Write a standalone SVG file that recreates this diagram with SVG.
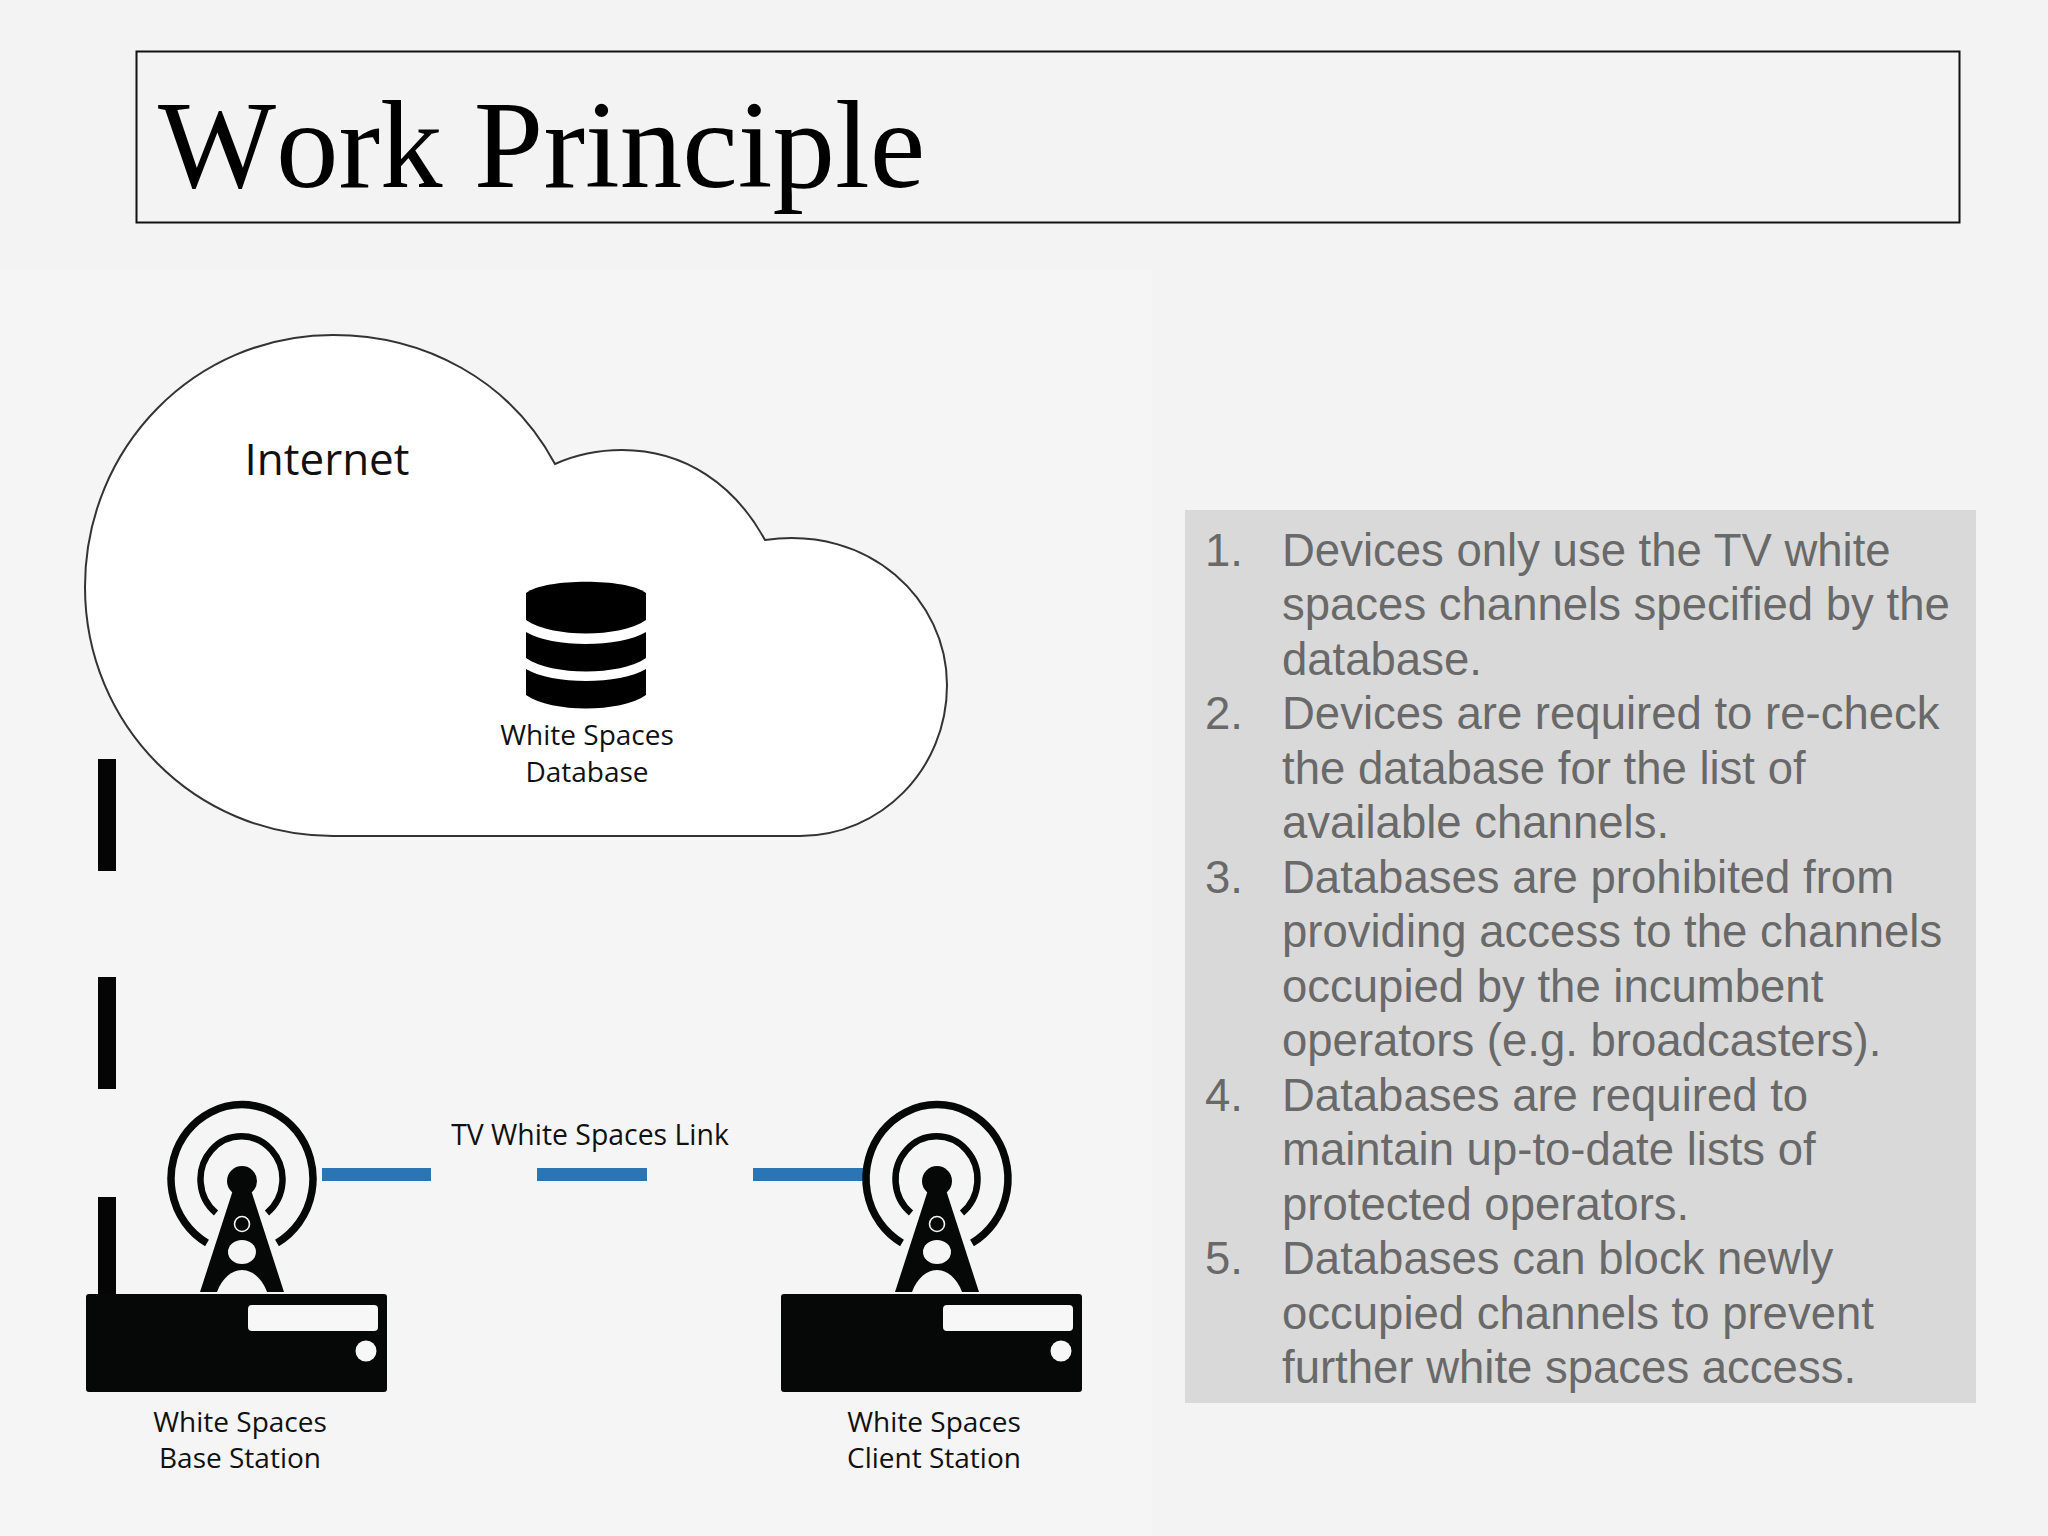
<svg xmlns="http://www.w3.org/2000/svg" width="2048" height="1536" viewBox="0 0 2048 1536">
<style>
.lbl{font-family:"Open Sans","Noto Sans",sans-serif;fill:#111111;text-anchor:middle}
.li{font-family:"Liberation Sans",Arial,sans-serif;font-size:45.500px;fill:#696969}
.dash{fill:#050505}
.blue{fill:#2b75b5}
.blk{fill:#060808}
.hole{fill:#f5f5f5}
.arc{fill:none;stroke:#060808}
</style>
<defs>
<g id="station">
<path class="arc" stroke-width="7.500" d="M207,1243 A71,74 0 1 1 277,1243"/>
<path class="arc" stroke-width="6.500" d="M216,1213 A41,43 0 1 1 267,1213"/>
<circle class="blk" cx="242" cy="1181" r="15"/>
<path class="blk" d="M233,1190 L251,1190 L284,1292 L200,1292 Z"/>
<ellipse class="hole" cx="242" cy="1252" rx="14" ry="12"/>
<path class="hole" d="M217,1292 C222,1278 232,1270 242,1270 C252,1270 262,1278 267,1292 Z"/>
<circle cx="242" cy="1224" r="7.500" fill="#060808" stroke="#f5f5f5" stroke-width="1.600"/>
<rect class="blk" x="86" y="1294" width="301" height="98" rx="3"/>
<rect x="248" y="1305" width="130" height="26" rx="4" fill="#f7f7f7"/>
<circle cx="366" cy="1351" r="10.500" fill="#f7f7f7"/>
</g>
</defs>
<rect width="2048" height="1536" fill="#f3f3f3"/>
<rect x="0" y="270" width="1152" height="1266" fill="#f5f5f5"/>
<g id="title">
<rect x="136.500" y="51.500" width="1823" height="171" fill="none" stroke="#111111" stroke-width="2"/>
<text x="158" y="187" font-family="'Liberation Serif','Times New Roman',serif" font-size="125" style="font-kerning:none" fill="#000000">Work Principle</text>
</g>
<g id="connectors">
<rect class="dash" x="98" y="759" width="18" height="112"/>
<rect class="dash" x="98" y="977" width="18" height="112"/>
<rect class="dash" x="98" y="1197" width="18" height="97"/>
<rect class="blue" x="322" y="1168" width="109" height="13"/>
<rect class="blue" x="537" y="1168" width="110" height="13"/>
<rect class="blue" x="753" y="1168" width="110" height="13"/>
<text class="lbl" x="590" y="1145" font-size="28.400">TV White Spaces Link</text>
</g>
<g id="cloud">
<path d="M555,464 C510,380 425,335 333,335 C195,335 85,447 85,587 C85,725 195,836 333,836 L800,836 C880,836 947,770 947,685 C947,600 870,525 765,540 C735,485 685,450 622,450 C600,450 575,455 555,464 Z" fill="#ffffff" stroke="#333333" stroke-width="2"/>
<text class="lbl" x="327" y="475" font-size="44">Internet</text>
</g>
<g id="database">
<path d="M526,593 C545,578 627,578 646,593 L646,620 C620,638 552,638 526,620 Z" fill="#000"/>
<path d="M526,632 C552,648 620,648 646,632 L646,658 C620,676 552,676 526,658 Z" fill="#000"/>
<path d="M526,669 C552,685 620,685 646,669 L646,695 C620,713 552,713 526,695 Z" fill="#000"/>
<text class="lbl" x="587" y="745" font-size="28">White Spaces</text>
<text class="lbl" x="587" y="782" font-size="28">Database</text>
</g>
<g id="base-station">
<use href="#station"/>
<text class="lbl" x="240" y="1432" font-size="28">White Spaces</text>
<text class="lbl" x="240" y="1468" font-size="28">Base Station</text>
</g>
<g id="client-station">
<use href="#station" x="695"/>
<text class="lbl" x="934" y="1432" font-size="28">White Spaces</text>
<text class="lbl" x="934" y="1468" font-size="28">Client Station</text>
</g>
<g id="notes">
<rect x="1185" y="510" width="791" height="893" fill="#d9d9d9"/>
<text class="li" x="1205" y="565.500">1.</text>
<text class="li" x="1282" y="565.500">Devices only use the TV white</text>
<text class="li" x="1282" y="620">spaces channels specified by the</text>
<text class="li" x="1282" y="674.500">database.</text>
<text class="li" x="1205" y="729">2.</text>
<text class="li" x="1282" y="729">Devices are required to re-check</text>
<text class="li" x="1282" y="783.500">the database for the list of</text>
<text class="li" x="1282" y="838">available channels.</text>
<text class="li" x="1205" y="892.500">3.</text>
<text class="li" x="1282" y="892.500">Databases are prohibited from</text>
<text class="li" x="1282" y="947">providing access to the channels</text>
<text class="li" x="1282" y="1001.500">occupied by the incumbent</text>
<text class="li" x="1282" y="1056">operators (e.g. broadcasters).</text>
<text class="li" x="1205" y="1110.500">4.</text>
<text class="li" x="1282" y="1110.500">Databases are required to</text>
<text class="li" x="1282" y="1165">maintain up-to-date lists of</text>
<text class="li" x="1282" y="1219.500">protected operators.</text>
<text class="li" x="1205" y="1274">5.</text>
<text class="li" x="1282" y="1274">Databases can block newly</text>
<text class="li" x="1282" y="1328.500">occupied channels to prevent</text>
<text class="li" x="1282" y="1383">further white spaces access.</text>
</g>
</svg>
